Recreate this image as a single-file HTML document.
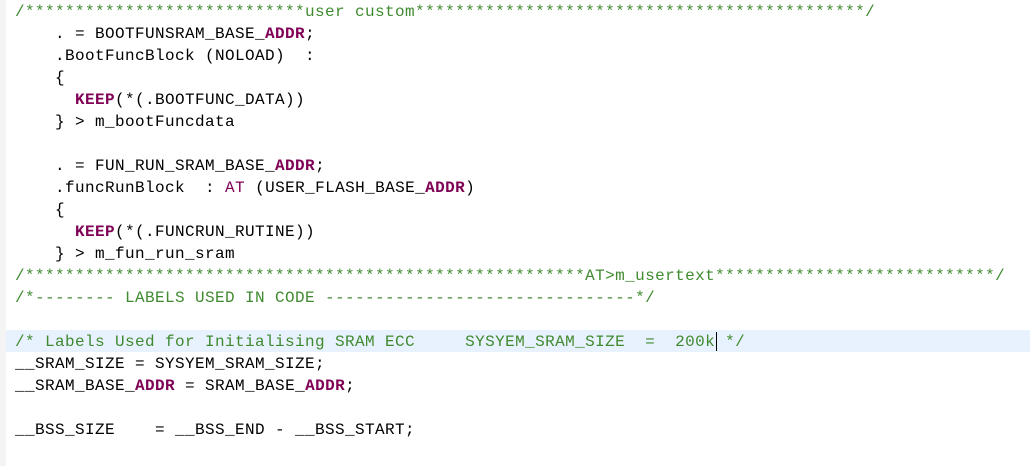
<!DOCTYPE html>
<html><head><style>
body{margin:0;width:1030px;height:466px;background:#fff;overflow:hidden;position:relative}
.g{position:absolute;left:0;top:0;width:6px;height:466px;background:#f4f4f4}
.hl{position:absolute;left:6px;top:330px;width:1024px;height:22px;background:#e8f2fe}
.cur{position:absolute;left:716px;top:332px;width:1px;height:19px;background:#000}
pre{position:absolute;left:15px;top:1px;margin:0;font-family:"Liberation Mono",monospace;font-size:16px;letter-spacing:0.4px;line-height:22px;color:#000}
.c{color:#3f8a2f}
.k{color:#7f0055;font-weight:bold}
.a{color:#7f0055}
</style></head><body>
<div class="g"></div><div class="hl"></div>
<pre><span class="c">/****************************user custom*********************************************/</span>
    . = BOOTFUNSRAM_BASE_<span class="k">ADDR</span>;
    .BootFuncBlock (NOLOAD)  :
    {
      <span class="k">KEEP</span>(*(.BOOTFUNC_DATA))
    } &gt; m_bootFuncdata

    . = FUN_RUN_SRAM_BASE_<span class="k">ADDR</span>;
    .funcRunBlock  : <span class="a">AT</span> (USER_FLASH_BASE_<span class="k">ADDR</span>)
    {
      <span class="k">KEEP</span>(*(.FUNCRUN_RUTINE))
    } &gt; m_fun_run_sram
<span class="c">/********************************************************AT&gt;m_usertext****************************/</span>
<span class="c">/*-------- LABELS USED IN CODE -------------------------------*/</span>

<span class="c">/* Labels Used for Initialising SRAM ECC     SYSYEM_SRAM_SIZE  =  200k */</span>
__SRAM_SIZE = SYSYEM_SRAM_SIZE;
__SRAM_BASE_<span class="k">ADDR</span> = SRAM_BASE_<span class="k">ADDR</span>;

__BSS_SIZE    = __BSS_END - __BSS_START;</pre>
<div class="cur"></div>
</body></html>
